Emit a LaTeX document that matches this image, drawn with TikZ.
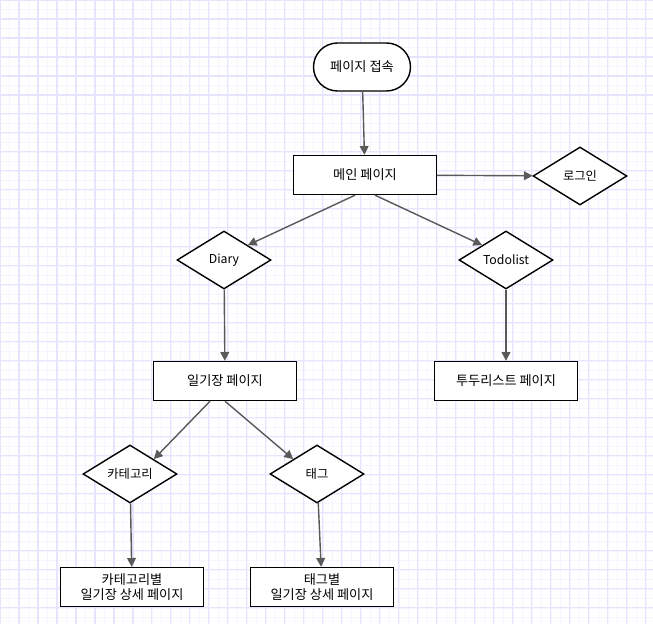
\documentclass[tikz,border=0pt]{standalone}
\usepackage{fontspec}
\setmainfont{Noto Sans CJK KR}
\usetikzlibrary{shapes.geometric,arrows.meta}
\tikzset{
  box/.style={draw, thick, minimum width=2.86cm, minimum height=0.78cm, inner sep=1pt, fill=white, align=center, font=\fontsize{7.5}{8.5}\selectfont},
  dia/.style={draw, thick, diamond, minimum width=1.88cm, minimum height=1.16cm, inner sep=0pt, fill=white, font=\fontsize{7}{8}\selectfont},
  term/.style={draw, thick, rounded corners=0.48cm, minimum width=1.94cm, minimum height=0.96cm, fill=white, font=\fontsize{7.5}{8.5}\selectfont},
  arr/.style={-{Triangle[length=5pt,width=5pt]}, draw=black!65, thick}
}
\begin{document}
\begin{tikzpicture}[x=0.02cm,y=-0.02cm]
    \useasboundingbox (0,0) rectangle (653,624);
    % grid
    \draw[blue!4, line width=0.3pt] (0,0) grid[step=0.19cm] (653,624);
    \draw[blue!10, line width=0.6pt] (0,0) grid[step=0.38cm] (653,624);
    \node[term] (start) at (362,67) {페이지 접속};
    \node[box] (main) at (365,175) {메인 페이지};
    \node[dia] (login) at (580,176) {로그인};
    \node[dia] (diary) at (224,260) {Diary};
    \node[dia] (todo) at (506,260) {Todolist};
    \node[box] (diarypage) at (225,381) {일기장 페이지};
    \node[box] (todopage) at (506,381) {투두리스트 페이지};
    \node[dia] (cat) at (130,474) {카테고리};
    \node[dia] (tag) at (317,474) {태그};
    \node[box] (catpage) at (132,587) {카테고리별\\일기장 상세 페이지};
    \node[box] (tagpage) at (322,587) {태그별\\일기장 상세 페이지};
    \draw[arr] (start) -- (main);
    \draw[arr] (main) -- (login);
    \draw[arr] ([xshift=-0.2cm]main.south) -- (diary.north east);
    \draw[arr] ([xshift=0.2cm]main.south) -- (todo.north west);
    \draw[arr] (diary) -- (diarypage);
    \draw[arr] (todo) -- (todopage);
    \draw[arr] ([xshift=-0.3cm]diarypage.south) -- (cat.north east);
    \draw[arr] (diarypage.south) -- (tag.north west);
    \draw[arr] (cat) -- (catpage);
    \draw[arr] (tag) -- (tagpage);
\end{tikzpicture}
\end{document}
